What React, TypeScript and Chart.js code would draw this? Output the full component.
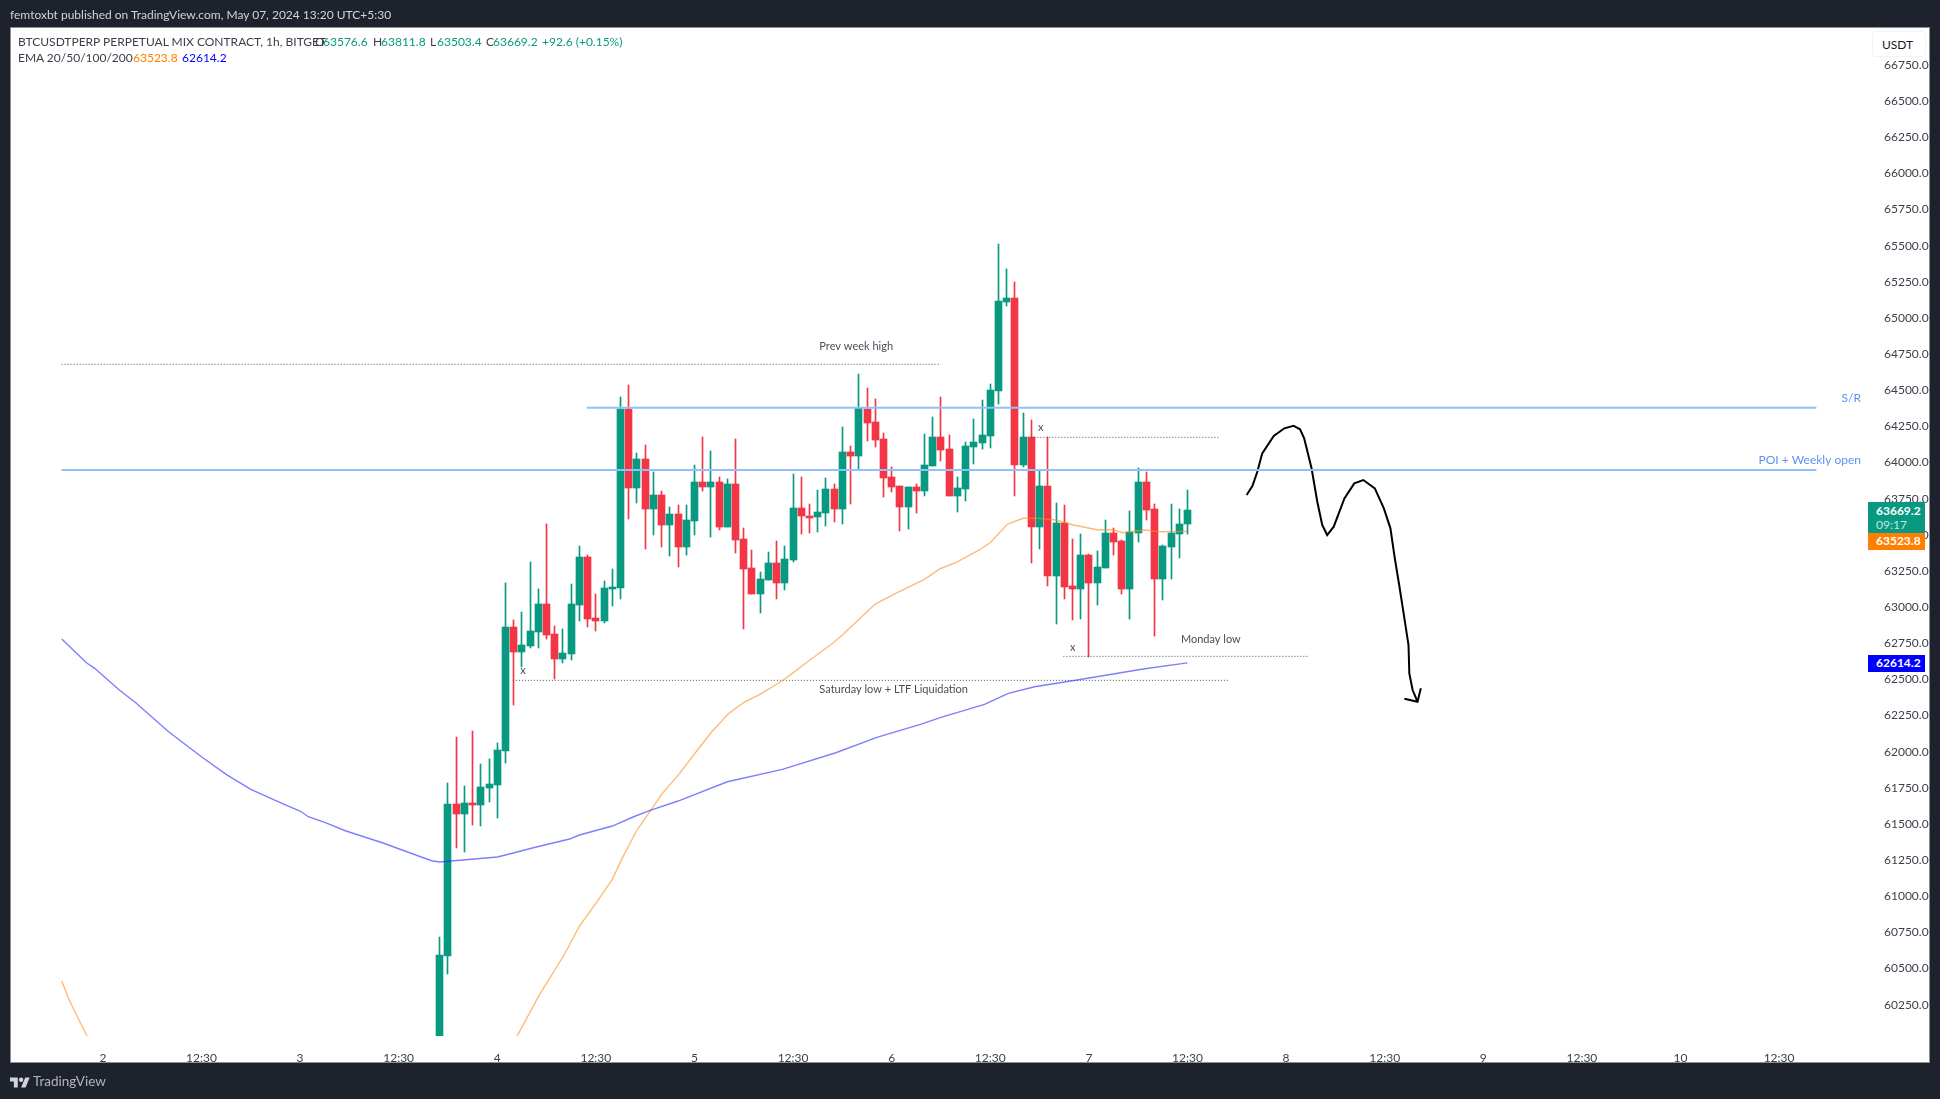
import { useEffect, useRef } from 'react';
import { Chart, registerables } from 'chart.js';

Chart.register(...registerables);

// candles start at bar 41, one bar per hour, bar 0 is the "2" tick
const firstBar = 41;
const opens = [59867, 60588, 61637.5, 61568.3, 61644.4, 61632.6, 61748.2, 61771.1, 62006.4, 62862.1, 62691.2, 62730.7, 62827.5, 63021.2, 62813.7, 62640.7, 62675.3, 63014.3, 63346.4, 62924.4, 62903.6, 63125, 63131.9, 64370.2, 63823.7, 64024.4, 63678.4, 63775.3, 63567.8, 63643.9, 63415.5, 63595.4, 63865.2, 63830.6, 63865.2, 63553.9, 63851.4, 63470.9, 63270.3, 63090.4, 63187.3, 63304.8, 63166.5, 63325.6, 63685.4, 63633.4, 63623.1, 63650.8, 63816.8, 63678.4, 64072.8, 64045.1, 64370.2, 64280.3, 64162.7, 63899.8, 63837.5, 63692.3, 63830.6, 63803, 63975.9, 64176.5, 64093.5, 63768.4, 63816.8, 64107.4, 64135, 64183.4, 64494.8, 65110.5, 65138.1, 63982.8, 64176.5, 63553.9, 63837.5, 63214.9, 63581.6, 63145.8, 63125, 63360.2, 63166.5, 63270.3, 63512.4, 63457, 63125, 63512.4, 63865.2, 63678.4, 63194.2, 63415.5, 63505.5, 63576.6];
const highs = [60717.5, 61783, 62101.2, 61762, 62142.7, 61914.3, 61949, 62059.7, 63166.5, 62910.5, 62965.9, 63311.8, 63125, 63574.7, 62869, 62848.3, 63159.6, 63422.4, 63360.2, 63090.4, 63180.3, 63263.3, 64453.3, 64536.3, 64065.9, 64121.2, 63934.4, 63803, 63692.3, 63706.1, 63706.1, 63982.8, 64176.5, 64079.7, 63899.8, 63886, 64162.7, 63547, 63394.8, 63242.6, 63380.9, 63457, 63422.4, 63920.6, 63899.8, 63713, 63809.9, 63892.9, 63851.4, 64245.7, 64114.3, 64612.4, 64515.5, 64439.5, 64204.2, 63969, 63837.5, 63830.6, 63851.4, 64197.3, 64314.9, 64453.3, 64190.4, 63899.8, 64142, 64301, 64432.5, 64543.2, 65511.7, 65338.7, 65248.8, 64342.6, 64294.1, 63941.3, 64176.5, 63719.9, 63706.1, 63470.9, 63505.5, 63367.1, 63387.9, 63602.3, 63547, 63464, 63664.6, 63962.1, 63934.4, 63713, 63429.4, 63713, 63678.4, 63811.8];
const lows = [59800, 60461.6, 61335.2, 61307.5, 61494.3, 61487.4, 61653.4, 61542.7, 61923.5, 62324.6, 62585.4, 62716.8, 62716.8, 62779.1, 62502.3, 62613, 62633.8, 62903.6, 62862.1, 62834.4, 62889.8, 63007.4, 63055.8, 63609.3, 63719.9, 63401.7, 63498.6, 63415.5, 63353.3, 63277.2, 63360.2, 63498.6, 63803, 63484.7, 63533.2, 63553.9, 63374, 62848.3, 63090.4, 62959, 63187.3, 63055.8, 63118.1, 63311.8, 63505.5, 63512.4, 63519.3, 63560.8, 63588.5, 63574.7, 63713, 63955.2, 64148.9, 64107.4, 63761.5, 63796, 63526.2, 63540.1, 63650.8, 63768.4, 63975.9, 64010.5, 63768.4, 63657.7, 63733.8, 63989.8, 64093.5, 64100.5, 64404.9, 65082.8, 63768.4, 63969, 63304.8, 63401.7, 63145.8, 62882.9, 63055.8, 62910.5, 62917.5, 62654.5, 63014.3, 63270.3, 63360.2, 63090.4, 62917.5, 63450.1, 63602.3, 62799.8, 63048.9, 63194.2, 63339.4, 63503.4];
const closes = [60593, 61637.5, 61568.3, 61644.4, 61637.5, 61755.1, 61776, 62011.3, 62862.1, 62691.2, 62737.6, 62834.4, 63021.2, 62806.8, 62640.7, 62682.2, 63021.2, 63346.4, 62917.5, 62903.6, 63131.9, 63138.8, 64370.2, 63823.7, 64024.4, 63678.4, 63775.3, 63567.8, 63643.9, 63415.5, 63602.3, 63865.2, 63830.6, 63865.2, 63553.9, 63851.4, 63464, 63263.3, 63090.4, 63194.2, 63304.8, 63166.5, 63332.5, 63685.4, 63630, 63630, 63657.7, 63816.8, 63678.4, 64072.8, 64045.1, 64377, 64273.4, 64155.8, 63892.9, 63830.6, 63692.3, 63830.6, 63803, 63982.8, 64176.5, 64086.6, 63768.4, 63823.7, 64114.3, 64142, 64190.4, 64501.7, 65117.4, 65138.1, 63982.8, 64176.5, 63553.9, 63837.5, 63214.9, 63581.6, 63138.8, 63125, 63360.2, 63166.5, 63277.2, 63512.4, 63450.1, 63125, 63519.3, 63865.2, 63671.5, 63194.2, 63422.4, 63512.4, 63574.7, 63669.2];

// EMA lines at the bends
const ema200Bars = [-5, -2, -1, 2, 4, 8, 12, 15, 18, 22, 24, 25, 27, 29.5, 34, 37, 40, 41, 48, 49, 52.4, 56.8, 58, 62, 64.6, 66.7, 70, 76, 82.7, 89.2, 94.2, 99.5, 102, 107.3, 110.2, 113.4, 118, 126.8, 132];
const ema200 = [62779.1, 62615.1, 62576.4, 62426.3, 62338.4, 62137.7, 61964.9, 61843.1, 61739.3, 61637.7, 61589.2, 61549.8, 61511, 61452.9, 61369.9, 61307.8, 61245.4, 61236.4, 61271, 61284.8, 61335.3, 61395.5, 61423.2, 61485.4, 61549.8, 61596.1, 61658.4, 61791.9, 61877.7, 61992.5, 62099.1, 62189, 62237.4, 62327.4, 62403.4, 62449.1, 62490.6, 62573.6, 62614.2];
const ema100BarsLeft = [-5, -4.1, -2, -1.8];
const ema100Left = [60413.1, 60281.7, 60039.6, 60010];
const ema100Bars = [50.2, 53.1, 56, 57, 58, 60, 62, 63.2, 65, 66.7, 68.1, 70.2, 72.2, 74, 76.1, 78, 79.8, 82.7, 83.9, 85.9, 88.9, 90, 94, 96.5, 100, 101.9, 103.8, 106.5, 108, 110.1, 112, 113.7, 116, 118, 121, 122.9, 124.1, 126.8, 128.7, 132];
const ema100 = [60010, 60316.3, 60581.2, 60685, 60793.7, 60950.7, 61116.7, 61262, 61457.8, 61596.1, 61711.7, 61850, 61999.4, 62130.9, 62260.2, 62341.2, 62391.7, 62490.6, 62541.8, 62626.9, 62753.5, 62806.8, 63021.2, 63095.2, 63192.1, 63265.4, 63306.9, 63390, 63445.3, 63574.7, 63614.1, 63614.1, 63602.3, 63569.8, 63535.2, 63535.2, 63514.4, 63533.2, 63521.4, 63523.8];

// hand drawn projection
const sketchBars = [139.2, 139.9, 140.5, 141.1, 142.5, 143.8, 144.9, 145.7, 146.2, 147.1, 147.8, 148.4, 149, 149.8, 151.1, 152.3, 153.4, 154.8, 155.9, 156.7, 157.2, 157.8, 158.4, 158.9, 159, 159.4, 160];
const sketchPrices = [63775.3, 63837.6, 63936.4, 64063.7, 64183.5, 64236.8, 64254.7, 64229.8, 64167.5, 63960, 63728.9, 63567.7, 63498.6, 63556, 63752.4, 63856.2, 63879.1, 63821.7, 63683.2, 63544.9, 63348.5, 63140.9, 62922.3, 62737.6, 62541.8, 62426.3, 62345.3];
const arrowBars = [158.4, 160, 160.4];
const arrowPrices = [62366.1, 62345.3, 62438];

// horizontal levels: price, first bar, last bar
const solidLevels = [64379, 63948];
const solidStarts = [58.9, -5.02];
const solidEnds = [208.54, 208.54];
const dottedLevels = [64679.5, 64174.5, 62493.4, 62659.4];
const dottedStarts = [-5.02, 113, 49.9, 116.9];
const dottedEnds = [102, 135.9, 137, 146.8];

const noteTexts = ['Prev week high', 'Saturday low + LTF Liquidation', 'Monday low', 'x', 'x', 'x'];
const noteBars = [87.2, 87.2, 131.2, 113.8, 117.7, 50.8];
const notePrices = [64806.1, 62431.1, 62777, 64243.7, 62721.7, 62559.8];
const blueNoteTexts = ['S/R', 'POI + Weekly open'];
const blueNotePrices = [64446.3, 64017.4];

const priceTicks = [60250, 60500, 60750, 61000, 61250, 61500, 61750, 62000, 62250, 62500, 62750, 63000, 63250, 63500, 63750, 64000, 64250, 64500, 64750, 65000, 65250, 65500, 65750, 66000, 66250, 66500, 66750];
const timeTicks = [0, 12, 24, 36, 48, 60, 72, 84, 96, 108, 120, 132, 144, 156, 168, 180, 192, 204];
const timeLabels = ['2', '12:30', '3', '12:30', '4', '12:30', '5', '12:30', '6', '12:30', '7', '12:30', '8', '12:30', '9', '12:30', '10', '12:30'];

const UP = '#089981';
const DOWN = '#F23645';
const FONT = 'Lato';
const TEXT = '#3b3f4a';

const pair = (bars: number[], values: number[]) => bars.map((x, n) => ({ x, y: values[n] }));

// TradingView keeps candles on whole pixels
const snapBars = {
  id: 'snapBars',
  beforeDatasetsDraw(chart: any) {
    chart.data.datasets.forEach((_: any, n: number) => {
      const meta = chart.getDatasetMeta(n);
      if (meta.type !== 'bar') return;
      meta.data.forEach((el: any) => {
        el.x = Math.floor(el.x) + 0.5;
        el.y = Math.round(el.y);
        el.base = Math.round(el.base);
        if (Math.abs(el.base - el.y) < 2) el.base = el.y + 2;
      });
    });
  },
};

const notes = {
  id: 'notes',
  afterDatasetsDraw(chart: any) {
    const { ctx, scales } = chart;
    ctx.save();
    ctx.textBaseline = 'middle';
    ctx.font = `11px ${FONT}`;
    ctx.fillStyle = '#4a4e59';
    ctx.textAlign = 'left';
    noteTexts.forEach((t, n) => {
      ctx.fillText(t, scales.x.getPixelForValue(noteBars[n]), scales.y.getPixelForValue(notePrices[n]));
    });
    ctx.font = `12px ${FONT}`;
    ctx.fillStyle = '#5b93f5';
    ctx.textAlign = 'right';
    blueNoteTexts.forEach((t, n) => {
      ctx.fillText(t, 1861, scales.y.getPixelForValue(blueNotePrices[n]));
    });
    ctx.restore();
  },
};

function Label({ x, y, color, children, size = 12 }: any) {
  return (
    <span style={{ position: 'absolute', left: x, top: y, lineHeight: '14px', fontSize: size, color, whiteSpace: 'nowrap' }}>
      {children}
    </span>
  );
}

function PriceBox({ top, height, color, children }: any) {
  return (
    <div style={{ position: 'absolute', left: 1868, top, width: 57, height, background: color, color: '#fff', fontSize: 12, fontWeight: 700, paddingLeft: 8, boxSizing: 'border-box', lineHeight: '16px' }}>
      {children}
    </div>
  );
}

export default function App() {
  const canvasRef = useRef<HTMLCanvasElement>(null);

  useEffect(() => {
    if (!canvasRef.current) return;

    const wicks = opens.map((_, n) => ({ x: firstBar + n, y: [lows[n], highs[n]] }));
    const bodies = opens.map((o, n) => ({ x: firstBar + n, y: [o, closes[n]] }));
    const colors = opens.map((o, n) => (closes[n] >= o ? UP : DOWN));

    const level = (price: number, from: number, to: number, dotted: boolean) => ({
      type: 'line',
      data: [{ x: from, y: price }, { x: to, y: price }],
      borderColor: dotted ? '#4b4e57' : '#90bffa',
      borderWidth: dotted ? 1 : 2,
      borderDash: dotted ? [1, 2] : [],
      pointRadius: 0,
      order: dotted ? 3 : 1,
    });
    const curve = (data: any[], color: string, width: number) => ({
      type: 'line',
      data,
      borderColor: color,
      borderWidth: width,
      pointRadius: 0,
      tension: 0,
      order: 2,
    });

    const chart = new Chart(canvasRef.current, {
      type: 'bar',
      data: {
        datasets: [
          ...solidLevels.map((p, n) => level(p, solidStarts[n], solidEnds[n], false)),
          ...dottedLevels.map((p, n) => level(p, dottedStarts[n], dottedEnds[n], true)),
          curve(pair(ema200Bars, ema200), 'rgba(40,40,255,0.6)', 1.4),
          curve(pair(ema100BarsLeft, ema100Left), 'rgba(255,140,30,0.6)', 1.4),
          curve(pair(ema100Bars, ema100), 'rgba(255,140,30,0.6)', 1.4),
          curve(pair(sketchBars, sketchPrices), '#000000', 2),
          curve(pair(arrowBars, arrowPrices), '#000000', 2),
          { type: 'bar', data: bodies, backgroundColor: colors, barThickness: 7, grouped: false, order: 4 },
          { type: 'bar', data: wicks, backgroundColor: colors, barThickness: 1, grouped: false, order: 5 },
        ] as any,
      },
      options: {
        responsive: false,
        animation: false,
        layout: { padding: { left: 10, top: 28, right: 10, bottom: 36 } },
        plugins: { legend: { display: false }, tooltip: { enabled: false }, title: { display: false } },
        scales: {
          x: {
            type: 'linear',
            min: -5.02,
            max: 208.54,
            grid: { display: false },
            border: { display: false },
            afterBuildTicks: (scale: any) => {
              scale.ticks = timeTicks.map(value => ({ value }));
            },
            afterFit: (scale: any) => {
              scale.height = 27;
            },
            ticks: {
              autoSkip: false,
              maxRotation: 0,
              padding: 7,
              color: TEXT,
              font: { family: FONT, size: 12 },
              callback: (_: any, n: number) => timeLabels[n],
            },
          },
          y: {
            type: 'linear',
            position: 'right',
            min: 60033,
            max: 67006,
            grid: { display: false },
            border: { display: false },
            afterBuildTicks: (scale: any) => {
              scale.ticks = priceTicks.map(value => ({ value }));
            },
            afterFit: (scale: any) => {
              scale.width = 62;
            },
            ticks: {
              autoSkip: false,
              padding: 8,
              color: TEXT,
              font: { family: FONT, size: 12 },
              callback: (v: any) => Number(v).toFixed(1),
            },
          },
        },
      } as any,
      plugins: [snapBars, notes],
    });

    return () => chart.destroy();
  }, []);

  return (
    <div style={{ position: 'fixed', left: 0, top: 0, width: 1940, height: 1099, background: '#1e222d', overflow: 'hidden', fontFamily: FONT }}>
      <div style={{ position: 'absolute', left: 10, top: 27, width: 1920, height: 1036, background: '#fff', border: '1px solid #8b8e96', boxSizing: 'border-box' }} />
      <canvas ref={canvasRef} width={1940} height={1099} style={{ position: 'absolute', left: 0, top: 0, width: 1940, height: 1099 }} />

      <Label x={10} y={8} color="#d1d4dc">femtoxbt published on TradingView.com, May 07, 2024 13:20 UTC+5:30</Label>

      <Label x={18} y={35} color={TEXT}>BTCUSDTPERP PERPETUAL MIX CONTRACT, 1h, BITGET</Label>
      <Label x={315} y={35} color={TEXT}>O</Label>
      <Label x={323} y={35} color={UP}>63576.6</Label>
      <Label x={373} y={35} color={TEXT}>H</Label>
      <Label x={381} y={35} color={UP}>63811.8</Label>
      <Label x={430} y={35} color={TEXT}>L</Label>
      <Label x={437} y={35} color={UP}>63503.4</Label>
      <Label x={486} y={35} color={TEXT}>C</Label>
      <Label x={493} y={35} color={UP}>63669.2</Label>
      <Label x={542} y={35} color={UP}>+92.6 (+0.15%)</Label>
      <Label x={18} y={51} color={TEXT}>EMA 20/50/100/200</Label>
      <Label x={133} y={51} color="#ff7f00">63523.8</Label>
      <Label x={182} y={51} color="#0000ff">62614.2</Label>

      <div style={{ position: 'absolute', left: 1872, top: 30, width: 54, height: 30, background: '#fff' }} />
      <div style={{ position: 'absolute', left: 1872, top: 31, width: 54, height: 26, background: '#fff', border: '1px solid #f0f3fa', borderRadius: 4, boxSizing: 'border-box', fontSize: 12, color: '#131722', lineHeight: '26px', paddingLeft: 9 }}>USDT</div>

      <PriceBox top={502} height={31} color={UP}>
        <div style={{ lineHeight: '15px', paddingTop: 1 }}>63669.2</div>
        <div style={{ lineHeight: '14px', fontWeight: 400, opacity: 0.75 }}>09:17</div>
      </PriceBox>
      <PriceBox top={533} height={17} color="#ff7f00">63523.8</PriceBox>
      <PriceBox top={655} height={17} color="#0000ff">62614.2</PriceBox>

      <svg style={{ position: 'absolute', left: 10, top: 1075 }} width={20} height={13} viewBox="0 0 36 22">
        <path d="M14 22H7V11H0V4h14v18zM28 22h-8l7.5-18h8L28 22z" fill="#d1d4dc" />
        <circle cx={20} cy={8} r={4} fill="#d1d4dc" />
      </svg>
      <Label x={33} y={1074} color="#b2b5be" size={13.5}>TradingView</Label>
    </div>
  );
}
